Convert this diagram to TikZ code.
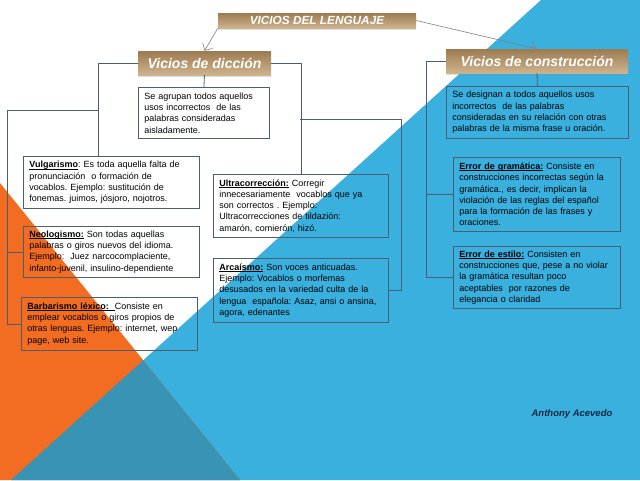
\documentclass[tikz,border=0pt]{standalone}
\usepackage{fontspec}
\setmainfont{Liberation Sans}
\usepackage{xcolor}
\definecolor{slideblue}{HTML}{3AB0DF}
\definecolor{slideorange}{HTML}{F26D21}
\definecolor{slideteal}{HTML}{3993B4}
\definecolor{tanlight}{HTML}{CDB38E}
\definecolor{tandark}{HTML}{9D7B51}
\definecolor{rulegray}{HTML}{4C5E70}
\definecolor{inkblue}{HTML}{0D2840}
\usetikzlibrary{arrows.meta,positioning,shadows}
\newcommand{\headul}[1]{\setbox0\hbox{#1}\rlap{\rule[-1.3pt]{\wd0}{0.55pt}}\box0\relax}
\frenchspacing
\tikzset{
  titlebox/.style={top color=tandark,bottom color=tanlight,text=white,inner sep=0pt,
    drop shadow={opacity=0.25,shadow xshift=0pt,shadow yshift=-2pt}},
  notebox/.style={draw=rulegray,line width=0.8pt,anchor=north west,align=left,
    inner xsep=6pt,inner ysep=3pt,font=\fontsize{9}{11.3}\selectfont},
  linkline/.style={draw=rulegray,line width=0.8pt},
  linkarrow/.style={-{Straight Barb[length=2mm]},gray,line width=0.6pt}
}

\begin{document}
\begin{tikzpicture}[x=1pt,y=-1pt]
\useasboundingbox (0,0) rectangle (640,480);
% background
\fill[white] (0,0) rectangle (640,480);
\fill[slideblue] (541,0) -- (640,0) -- (640,480) -- (11,480) -- cycle;
\fill[slideorange] (0,183) -- (240,480) -- (0,480) -- cycle;
\begin{scope}
\clip (0,183) -- (240,480) -- (0,480) -- cycle;
\fill[slideteal] (541,0) -- (640,0) -- (640,480) -- (11,480) -- cycle;
\end{scope}

% headings
\node[titlebox,minimum width=198pt,minimum height=15pt,font=\fontsize{11.8}{13}\selectfont\bfseries\itshape] (lenguaje) at (317,20.5) {VICIOS DEL LENGUAJE};
\node[titlebox,minimum width=133pt,minimum height=24pt,font=\fontsize{14}{16}\selectfont\bfseries\itshape] (diccion) at (204.5,63) {Vicios de dicción};
\node[titlebox,minimum width=182pt,minimum height=24pt,font=\fontsize{14}{16}\selectfont\bfseries\itshape] (construccion) at (537,61) {Vicios de construcción};

% boxes
\node[notebox,text width=119pt,minimum height=51pt] (agrupan) at (138,87)
  {Se agrupan todos aquellos\\usos incorrectos~ de las\\palabras consideradas\\aisladamente.};
\node[notebox,text width=170pt,minimum height=52pt] (designan) at (446,86)
  {Se designan a todos aquellos usos\\incorrectos~ de las palabras\\consideradas en su relación con otras\\palabras de la misma frase u oración.};
\node[notebox,text width=164pt,minimum height=52pt] (vulg) at (23,156)
  {\headul{\textbf{Vulgarismo}}: Es toda aquella falta de\\pronunciación~ o formación de\\vocablos. Ejemplo: sustitución de\\fonemas. juimos, jósjoro, nojotros.};
\node[notebox,text width=164pt,minimum height=51pt] (neo) at (23,226)
  {\headul{\textbf{Neologismo:}} Son todas aquellas\\palabras o giros nuevos del idioma.\\Ejemplo:~ Juez narcocomplaciente,\\infanto-juvenil, insulino-dependiente};
\node[notebox,text width=164pt,minimum height=53pt] (barb) at (21,297)
  {\headul{\textbf{Barbarismo léxico:}~~}Consiste en\\emplear vocablos o giros propios de\\otras lenguas. Ejemplo: internet, wep\\page, web site.};
\node[notebox,text width=163pt,minimum height=63pt] (ultra) at (213,174)
  {\headul{\textbf{Ultracorrección:}} Corregir\\innecesariamente~ vocablos que ya\\son correctos . Ejemplo:\\Ultracorrecciones de tildazión:\\amarón, comierón, hizó.};
\node[notebox,text width=163pt,minimum height=64pt] (arca) at (213,258)
  {\headul{\textbf{Arcaísmo:}} Son voces anticuadas.\\Ejemplo: Vocablos o morfemas\\desusados en la variedad culta de la\\lengua~ española: Asaz, ansi o ansina,\\agora, edenantes};
\node[notebox,text width=155pt,minimum height=74pt] (gram) at (453,157)
  {\headul{\textbf{Error de gramática:}} Consiste en\\construcciones incorrectas según la\\gramática., es decir, implican la\\violación de las reglas del español\\para la formación de las frases y\\oraciones.};
\node[notebox,text width=155pt,minimum height=62pt] (estilo) at (453,246)
  {\headul{\textbf{Error de estilo:}} Consisten en\\construcciones que, pese a no violar\\la gramática resultan poco\\aceptables~ por razones de\\elegancia o claridad};

\node[font=\fontsize{9.5}{11}\selectfont\bfseries\itshape,text=inkblue] (autor) at (572,414) {Anthony Acevedo};

% connectors
\coordinate (dl) at (98,63);
\coordinate (dl2) at (98,110);
\coordinate (farl) at (7,110);
\coordinate (dr) at (300,119);
\coordinate (rr) at (401,119);
\coordinate (cl) at (426,61);
\draw[linkline] (diccion.west) -- (dl) -- (dl |- vulg.north);
\draw[linkline] (dl2) -- (farl) |- (barb.west);
\draw[linkline] (farl |- neo.west) -- (neo.west);
\draw[linkline] (diccion.south) -- (agrupan.north);
\draw[linkline] (diccion.east) -| (ultra.north);
\draw[linkline] (dr) -- (rr) |- (arca.east);
\draw[linkline] (construccion.south) -- (designan.north);
\draw[linkline] (construccion.west) -- (cl) |- (estilo.west);
\draw[linkline] (cl |- gram.west) -- (gram.west);
\draw[linkarrow] (lenguaje.south west) -- (diccion.north);
\draw[linkarrow] (lenguaje.east) -- (construccion.north);
\end{tikzpicture}
\end{document}
